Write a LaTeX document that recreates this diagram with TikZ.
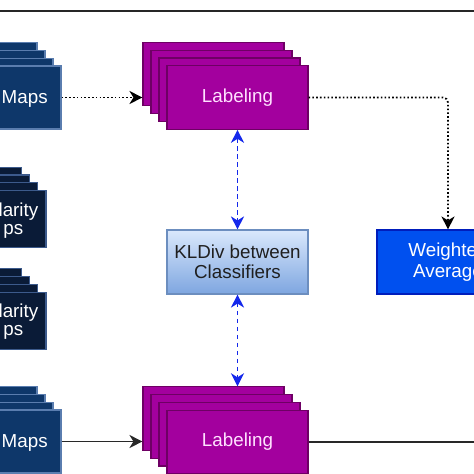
\documentclass[tikz,border=0pt]{standalone}
\usepackage{fontspec}
\setmainfont{Liberation Sans}
\usetikzlibrary{arrows.meta}
\definecolor{labfill}{RGB}{163,0,158}
\definecolor{labdraw}{RGB}{110,0,100}
\definecolor{labtext}{RGB}{255,225,255}
\definecolor{mapfill}{RGB}{14,55,106}
\definecolor{mapdraw}{RGB}{90,125,175}
\definecolor{simfill}{RGB}{10,27,55}
\definecolor{simdraw}{RGB}{60,90,140}
\definecolor{klTop}{RGB}{218,232,252}
\definecolor{klBot}{RGB}{126,166,224}
\definecolor{kldraw}{RGB}{108,142,191}
\definecolor{wfill}{RGB}{0,80,239}
\definecolor{wdraw}{RGB}{0,29,188}
\definecolor{arrblue}{RGB}{20,40,235}
\definecolor{arrgray}{RGB}{40,40,40}
\newcommand\fsz{\fontsize{18.8}{20.5}\selectfont}
\tikzset{myhead/.tip={Stealth[length=13pt,width=13pt,inset=4pt]}}
\begin{document}
\begin{tikzpicture}[x=1pt,y=-1pt,
 box/.style={inner sep=0pt, line width=1.1pt, font=\fsz, align=center},
 lab/.style={box, draw=labdraw, fill=labfill, text=labtext, minimum width=141pt, minimum height=63.5pt},
 mapbox/.style={box, draw=mapdraw, fill=mapfill, minimum width=142pt, minimum height=63pt},
 simbox/.style={box, draw=simdraw, fill=simfill, minimum width=100pt, minimum height=56.5pt},
 wtxt/.style={font=\fsz, text=white, inner sep=0pt},
 dotarrow/.style={-myhead, draw=black, line width=1.8pt, dash pattern=on 1.6pt off 2.2pt},
 solidarrow/.style={-myhead, draw=arrgray, line width=1.8pt},
 bluearrow/.style={myhead-myhead, draw=arrblue, line width=1.9pt, dash pattern=on 4.5pt off 3.5pt},
]
\useasboundingbox (0,0) rectangle (474,474);
\clip (0,0) rectangle (474,474);
\fill[white] (0,0) rectangle (474,474);
% frame line
\draw[line width=1.8pt, black!85] (-5,11) -- (480,11);

% top maps stack
\foreach \k in {3,2,1} \node[mapbox] (mapT\k) at ({-10-8*\k},{97.5-7.8*\k}) {};
\node[mapbox] (mapT) at (-10,97.5) {};
\node[wtxt] (mapTt) at (24.7,98.5) {Maps};

% similarity stack 1
\foreach \k in {3,2,1} \node[simbox] (simA\k) at ({-4-8.3*\k},{219-7.9*\k}) {};
\node[simbox] (simA) at (-4,219) {};
\node[wtxt, anchor=east] (simAt1) at (38.5,211.7) {larity};
\node[wtxt, anchor=east] (simAt2) at (23.5,231) {ps};

% similarity stack 2
\foreach \k in {3,2,1} \node[simbox] (simB\k) at ({-4-8.3*\k},{320.8-7.9*\k}) {};
\node[simbox] (simB) at (-4,320.8) {};
\node[wtxt, anchor=east] (simBt1) at (38.5,312.5) {larity};
\node[wtxt, anchor=east] (simBt2) at (23.5,332.5) {ps};

% bottom maps stack
\foreach \k in {3,2,1} \node[mapbox] (mapB\k) at ({-10-8*\k},{441.5-7.8*\k}) {};
\node[mapbox] (mapB) at (-10,441.5) {};
\node[wtxt] (mapBt) at (24.7,443) {Maps};

% top labeling stack
\foreach \k in {3,2,1} \node[lab] (labT\k) at ({237.5-8*\k},{97.5-7.8*\k}) {};
\node[lab] (labT) at (237.5,97.5) {Labeling};

% bottom labeling stack
\foreach \k in {3,2,1} \node[lab] (labB\k) at ({237.5-8*\k},{442-7.8*\k}) {};
\node[lab] (labB) at (237.5,442) {Labeling};

% KL box
\node[box, draw=kldraw, top color=klTop, bottom color=klBot, text=black!88,
      minimum width=141pt, minimum height=64pt] (kl) at (237.5,262) {KLDiv between\\Classifiers};

% weighted average
\node[box, draw=wdraw, fill=wfill, text=white,
      minimum width=142pt, minimum height=64pt] (wavg) at (448,262) {Weighted\\Average};

\coordinate (outR) at (490,442);

% connectors
\draw[dotarrow] (mapT.east) -- (mapT.east -| labT3.west);
\draw[dotarrow, rounded corners=5pt] (labT.east) -| (wavg.north);
\draw[solidarrow] (mapB.east) -- (mapB.east -| labB3.west);
\draw[arrgray, line width=1.8pt] (labB.east) -- (outR);
\draw[bluearrow] (labT.south) -- (kl.north);
\draw[bluearrow] (kl.south) -- (kl.south |- labB3.north);
\end{tikzpicture}
\end{document}
